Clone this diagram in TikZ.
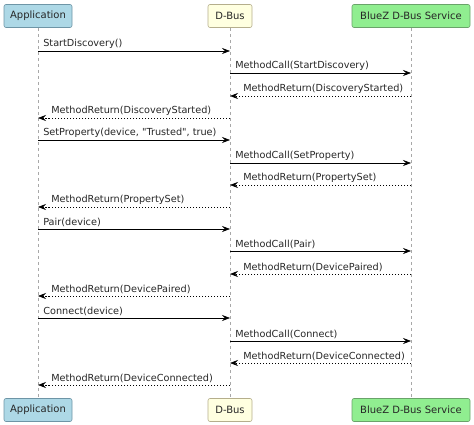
\documentclass[tikz,border=0pt]{standalone}
\usepackage{fontspec}
\setmainfont{DejaVu Sans}[Ligatures=TeXOff]
\usetikzlibrary{arrows.meta}

\definecolor{appfill}{HTML}{ADD8E6}
\definecolor{appline}{HTML}{6E95A6}
\definecolor{busfill}{HTML}{FFFFE0}
\definecolor{busline}{HTML}{B5AE8C}
\definecolor{bluezfill}{HTML}{90EE90}
\definecolor{bluezline}{HTML}{6AA36A}
\definecolor{lifegray}{HTML}{A8A8A8}

\tikzset{
  party/.style={draw, rounded corners=2pt, line width=0.6pt, minimum height=23pt,
    inner xsep=5pt, font=\fontsize{10}{12}\selectfont, text=black!85},
  lifeline/.style={draw=lifegray, line width=0.6pt, dash pattern=on 3pt off 3pt},
  call/.style={line width=0.6pt, -{Stealth[length=8pt,width=6pt,inset=3pt]}},
  ret/.style={call, dash pattern=on 1.5pt off 1.5pt},
  lbl/.style={font=\fontsize{9.7}{11}\selectfont, text=black!85, inner sep=0pt, anchor=south west}
}

\begin{document}
\begin{tikzpicture}[x=1pt,y=-1pt]
\useasboundingbox (0,0) rectangle (474,425);

% participants, top and bottom
\node[party, fill=appfill, draw=appline, minimum width=68pt] (appT) at (38,16) {Application};
\node[party, fill=busfill, draw=busline, minimum width=44pt] (busT) at (230,16) {D-Bus};
\node[party, fill=bluezfill, draw=bluezline, minimum width=118pt] (bzT) at (411,16) {BlueZ D-Bus Service};

\node[party, fill=appfill, draw=appline, minimum width=68pt] (appB) at (38,410) {Application};
\node[party, fill=busfill, draw=busline, minimum width=44pt] (busB) at (230,410) {D-Bus};
\node[party, fill=bluezfill, draw=bluezline, minimum width=118pt] (bzB) at (411,410) {BlueZ D-Bus Service};

% lifelines
\draw[lifeline] (appT) -- (appB);
\draw[lifeline] (busT) -- (busB);
\draw[lifeline] (bzT) -- (bzB);

% discovery
\draw[call] (appT |- 0,51) -- (busT |- 0,51) node[lbl, at start, xshift=5pt, yshift=2pt]{StartDiscovery()};
\draw[call] (busT |- 0,73) -- (bzT |- 0,73) node[lbl, at start, xshift=5pt, yshift=2pt]{MethodCall(StartDiscovery)};
\draw[ret] (bzT |- 0,96) -- (busT |- 0,96) node[lbl, at end, xshift=13pt, yshift=2pt]{MethodReturn(DiscoveryStarted)};
\draw[ret] (busT |- 0,118) -- (appT |- 0,118) node[lbl, at end, xshift=13pt, yshift=2pt]{MethodReturn(DiscoveryStarted)};

% trust
\draw[call] (appT |- 0,140) -- (busT |- 0,140) node[lbl, at start, xshift=5pt, yshift=2pt]{SetProperty(device, "Trusted", true)};
\draw[call] (busT |- 0,163) -- (bzT |- 0,163) node[lbl, at start, xshift=5pt, yshift=2pt]{MethodCall(SetProperty)};
\draw[ret] (bzT |- 0,185) -- (busT |- 0,185) node[lbl, at end, xshift=13pt, yshift=2pt]{MethodReturn(PropertySet)};
\draw[ret] (busT |- 0,207) -- (appT |- 0,207) node[lbl, at end, xshift=13pt, yshift=2pt]{MethodReturn(PropertySet)};

% pairing
\draw[call] (appT |- 0,229) -- (busT |- 0,229) node[lbl, at start, xshift=5pt, yshift=2pt]{Pair(device)};
\draw[call] (busT |- 0,251) -- (bzT |- 0,251) node[lbl, at start, xshift=5pt, yshift=2pt]{MethodCall(Pair)};
\draw[ret] (bzT |- 0,274) -- (busT |- 0,274) node[lbl, at end, xshift=13pt, yshift=2pt]{MethodReturn(DevicePaired)};
\draw[ret] (busT |- 0,296) -- (appT |- 0,296) node[lbl, at end, xshift=13pt, yshift=2pt]{MethodReturn(DevicePaired)};

% connecting
\draw[call] (appT |- 0,318) -- (busT |- 0,318) node[lbl, at start, xshift=5pt, yshift=2pt]{Connect(device)};
\draw[call] (busT |- 0,341) -- (bzT |- 0,341) node[lbl, at start, xshift=5pt, yshift=2pt]{MethodCall(Connect)};
\draw[ret] (bzT |- 0,363) -- (busT |- 0,363) node[lbl, at end, xshift=13pt, yshift=2pt]{MethodReturn(DeviceConnected)};
\draw[ret] (busT |- 0,385) -- (appT |- 0,385) node[lbl, at end, xshift=13pt, yshift=2pt]{MethodReturn(DeviceConnected)};

\end{tikzpicture}
\end{document}
